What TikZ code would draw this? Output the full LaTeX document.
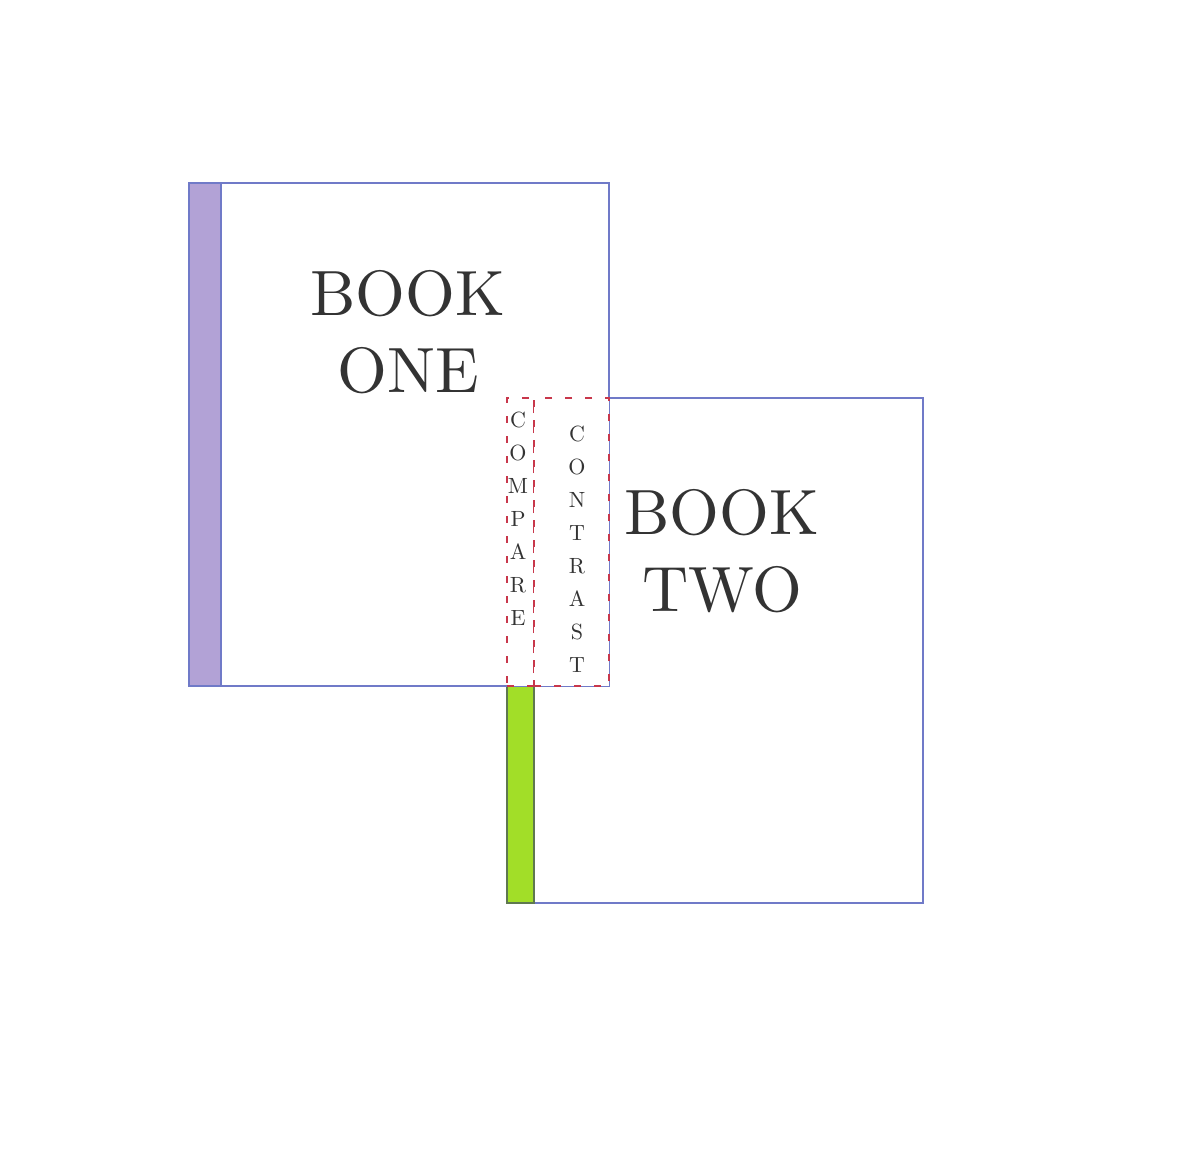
\documentclass[tikz,border=0pt]{standalone}
\usepackage{xcolor}
\usepackage{tikz}
\usetikzlibrary{shapes,positioning,calc}

\definecolor{coverline}{RGB}{112,122,200}
\definecolor{spinepurple}{RGB}{178,162,214}
\definecolor{spinegreen}{RGB}{162,222,40}
\definecolor{spinegreenline}{RGB}{95,120,80}
\definecolor{boxred}{RGB}{200,55,75}

\font\titlefont=cmr10 at 32pt
\font\letterfont=cmr10 at 11pt

\tikzset{
    cover/.style={draw=coverline, line width=0.8pt, fill=white, rectangle, anchor=north west, inner sep=0pt, outer sep=0pt},
    spine/.style={line width=0.8pt, rectangle, anchor=north west, inner sep=0pt, outer sep=0pt},
    sidebox/.style={draw=boxred, line width=0.7pt, dash pattern=on 3.5pt off 6.5pt, fill=white, rectangle, anchor=north west, inner sep=0pt, outer sep=0pt},
    title/.style={align=center, inner sep=0pt, text=black!80, font={\titlefont\baselineskip=38.5pt}},
    letters/.style={align=center, inner sep=0pt, anchor=north, text=black!80, font={\letterfont\baselineskip=16.5pt}}
}

\begin{document}
\begin{tikzpicture}[x=0.5pt, y=-0.5pt]
    \useasboundingbox (0,0) rectangle (1200,1153);
    % book two sits behind
    \node [cover, minimum width=208pt, minimum height=252.5pt] (two) at (507,398) {};
    \node [spine, draw=spinegreenline, fill=spinegreen, minimum width=13.5pt, minimum height=252.5pt] (twospine) at (507,398) {};
    % book one in front
    \node [cover, minimum width=210pt, minimum height=251.5pt] (one) at (189,183) {};
    \node [spine, draw=coverline, fill=spinepurple, minimum width=16pt, minimum height=251.5pt] (onespine) at (189,183) {};
    % the overlap
    \node [sidebox, minimum width=13.5pt, minimum height=144pt] (compare) at (507,398) {};
    \node [sidebox, minimum width=37.5pt, minimum height=144pt] (contrast) at (534,398) {};
    \node [letters] (comparetext) at (518,412) {C\\O\\M\\P\\A\\R\\E};
    \node [letters] (contrasttext) at (577,426) {C\\O\\N\\T\\R\\A\\S\\T};
    \node [title] (onetitle) at (408,332) {BOOK\\ONE};
    \node [title] (twotitle) at (722,551) {BOOK\\TWO};
\end{tikzpicture}
\end{document}
